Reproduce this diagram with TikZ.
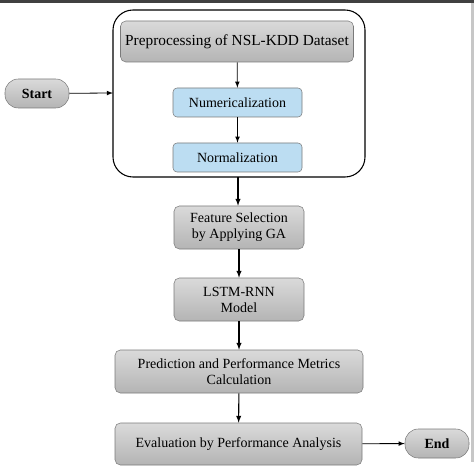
\documentclass[tikz,border=0pt]{standalone}
\usepackage{fontspec}
\setmainfont{Liberation Serif}
\definecolor{boxtop}{HTML}{DADADA}
\definecolor{boxbot}{HTML}{B4B4B4}
\definecolor{bluefill}{HTML}{BCDDF2}
\definecolor{edge}{HTML}{7A7A7A}
\tikzset{
  graybox/.style={draw=edge, top color=boxtop, bottom color=boxbot, rounded corners=4pt,
    inner sep=0pt, align=center, font=\fontsize{10.5}{12}\selectfont},
  bluebox/.style={draw=edge, fill=bluefill, rounded corners=3pt, inner sep=0pt,
    minimum width=96.75pt, minimum height=21.75pt, font=\fontsize{10.5}{12}\selectfont},
  pill/.style={draw=edge, top color=boxtop, bottom color=boxbot, rounded corners=10pt,
    inner sep=0pt, minimum width=48pt, minimum height=21.75pt, font=\fontsize{10.5}{12}\selectfont\bfseries},
  flow/.style={->, >=latex, thick},
  thinflow/.style={->, >=latex, semithick}
}
\begin{document}
\begin{tikzpicture}[x=0.75pt, y=-0.75pt]
        \useasboundingbox (0,0) rectangle (474,470);
        % frame of the screenshot
        \fill[black!75] (0,0) rectangle (474,3);
        \fill[black!22] (471,3) rectangle (474,462);
        % container of the preprocessing steps
        \draw[thick, rounded corners=15pt] (113,10) rectangle (365,177);
        \coordinate (boxW) at (113,93);
        \coordinate (boxS) at (238,177);
        \node[graybox, minimum width=174.75pt, minimum height=30.75pt, font=\fontsize{11.5}{12}\selectfont] (pre) at (237,41.5) {Preprocessing of NSL-KDD Dataset};
        \node[bluebox] (num) at (237.5,102.5) {Numericalization};
        \node[bluebox] (norm) at (237.5,157.5) {Normalization};
        \node[pill] (start) at (37,93.5) {Start};
        \node[graybox, minimum width=97.5pt, minimum height=32.25pt] (feat) at (239,227.5) {Feature Selection\\by Applying GA};
        \node[graybox, minimum width=97.5pt, minimum height=32.25pt] (lstm) at (239,299.5) {LSTM-RNN\\Model};
        \node[graybox, minimum width=186pt, minimum height=32.25pt] (pred) at (239,371.5) {Prediction and Performance Metrics\\Calculation};
        \node[graybox, minimum width=185.25pt, minimum height=31.5pt] (eval) at (238.5,444) {Evaluation by Performance Analysis};
        \node[pill] (end) at (437,443.5) {End};
        % connectors
        \draw[thinflow] (pre) -- (num);
        \draw[thinflow] (num) -- (norm);
        \draw[thinflow] (start) -- (boxW);
        \draw[flow] (boxS) -- (feat.north -| boxS);
        \draw[flow] (feat) -- (lstm);
        \draw[flow] (lstm) -- (pred);
        \draw[flow] (pred) -- (eval);
        \draw[thinflow] (eval) -- (end);
\end{tikzpicture}
\end{document}
